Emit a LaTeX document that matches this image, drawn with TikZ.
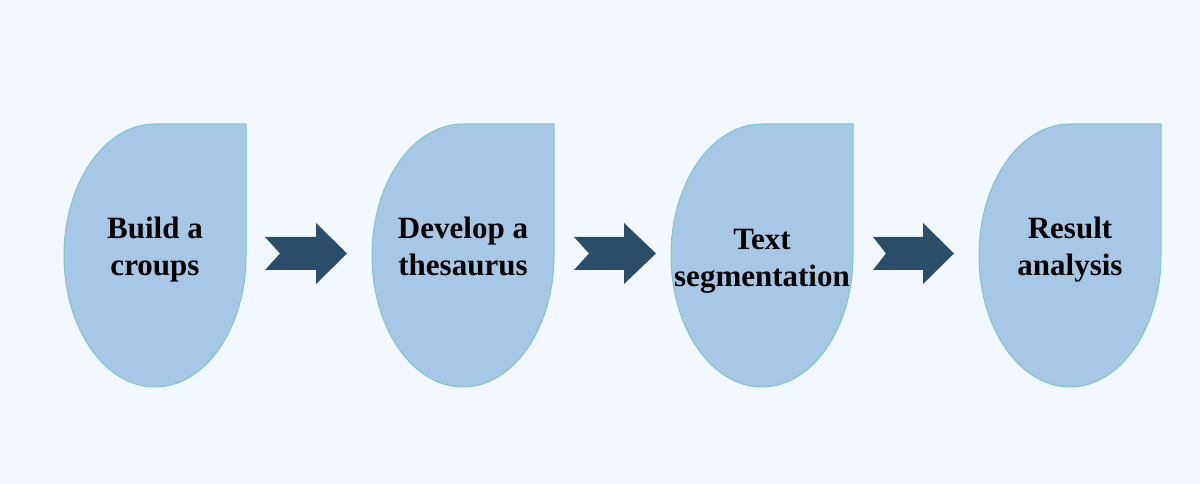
\documentclass[tikz,border=0pt]{standalone}
\usepackage{fontspec}
\setmainfont{Liberation Serif}
\definecolor{bgc}{HTML}{F2F8FE}
\definecolor{dropfill}{HTML}{A6C8E6}
\definecolor{dropline}{HTML}{7EC6CE}
\definecolor{arrowc}{HTML}{2A4D69}
\tikzset{
  drop/.style={fill=dropfill,draw=dropline,line width=1pt},
  blockarrow/.style={fill=arrowc,draw=none},
  label/.style={align=center,inner sep=0pt,anchor=base,font=\fontsize{31}{37}\selectfont\bfseries}
}
% #1 = left x (px), #2 = name
\newcommand{\teardrop}[2]{%
  \path[drop] (#1+91,360) -- (#1+182,360) -- (#1+182,228.5)
    arc[start angle=0,end angle=-90,x radius=91,y radius=131.5]
    arc[start angle=270,end angle=90,x radius=91,y radius=131.5] -- cycle;
  \coordinate (#2) at (#1+91,228.5);
}
% #1 tail x, #2 notch x, #3 head base x, #4 tip x
\newcommand{\blockarr}[4]{%
  \path[blockarrow] (#1,247) -- (#3,247) -- (#3,261) -- (#4,230.5)
    -- (#3,200) -- (#3,214) -- (#1,214) -- (#2,230.5) -- cycle;
}
\begin{document}
\begin{tikzpicture}[x=1pt,y=1pt]
\fill[bgc] (0,0) rectangle (1200,484);
\useasboundingbox (0,0) rectangle (1200,484);
\teardrop{64}{s1}
\teardrop{372}{s2}
\teardrop{671}{s3}
\teardrop{979}{s4}
\blockarr{265}{280}{316}{347}
\blockarr{574}{589}{624}{656}
\blockarr{873}{886}{923}{954}
\node[label] (t1) at (155,208) {Build a\\croups};
\node[label] (t2) at (463,208) {Develop a\\thesaurus};
\node[label] (t3) at (762,197) {Text\\segmentation};
\node[label] (t4) at (1070,208) {Result\\analysis};
\end{tikzpicture}
\end{document}
